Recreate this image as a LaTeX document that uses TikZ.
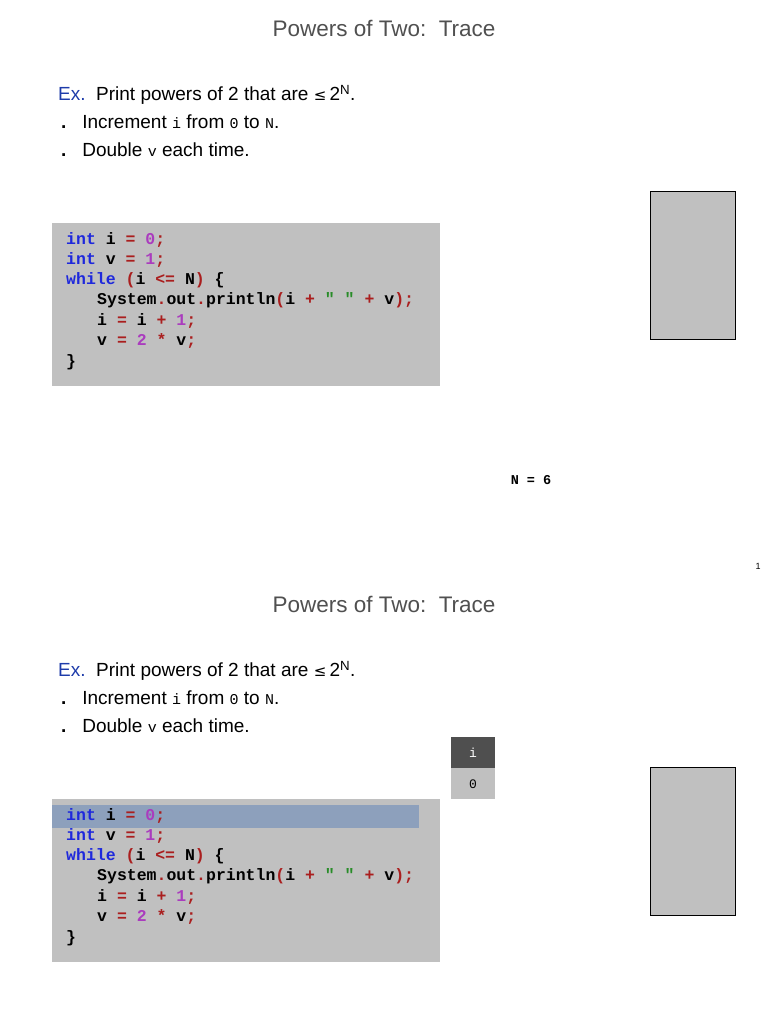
\documentclass[tikz,border=0pt]{standalone}
\usepackage{fontspec}
\setmainfont{Liberation Sans}
\setmonofont{Liberation Mono}
\newfontfamily\dv{DejaVu Sans}
\definecolor{kw}{RGB}{30,40,220}
\definecolor{op}{RGB}{170,30,30}
\definecolor{num}{RGB}{170,60,190}
\definecolor{str}{RGB}{40,140,40}
\definecolor{exb}{RGB}{30,60,170}
\definecolor{boxg}{RGB}{192,192,192}
\definecolor{hl}{RGB}{141,160,188}
\definecolor{ttl}{RGB}{80,80,80}
\newcommand{\K}[1]{\textcolor{kw}{#1}}
\newcommand{\Op}[1]{\textcolor{op}{#1}}
\newcommand{\Nm}[1]{\textcolor{num}{#1}}
\newcommand{\St}[1]{\textcolor{str}{#1}}
\begin{document}
\begin{tikzpicture}[x=1pt,y=-1pt,
  title/.style={font=\fontsize{22.5}{24}\selectfont, text=ttl},
  body/.style={font=\fontsize{19}{21}\selectfont, anchor=west, inner sep=0pt},
  code/.style={font=\ttfamily\bfseries\fontsize{16.5}{17}\selectfont, anchor=west, inner sep=0pt},
  memrect/.style={draw=black, fill=boxg, line width=0.6pt}]
\useasboundingbox[fill=white] (0,0) rectangle (768,1024);
\foreach \o/\s in {0/a,576/b}{
  \node[title] (t\s) at (384,28+\o) {Powers of Two:\ \ Trace};
  \node[body] (ex\s) at (58,95+\o) {\textcolor{exb}{Ex.}\ \ Print powers of 2 that are {\dv\fontsize{15}{15}\selectfont ≤}\,2$^{\mathrm{N}}$.};
  \node[body] (b1\s) at (61,122+\o) {\textbf{.}\ \ \ Increment {\ttfamily\fontsize{15}{15}\selectfont i} from {\ttfamily\fontsize{15}{15}\selectfont 0} to {\ttfamily\fontsize{15}{15}\selectfont N}.};
  \node[body] (b2\s) at (61,150+\o) {\textbf{.}\ \ \ Double {\ttfamily\fontsize{15}{15}\selectfont v} each time.};
  \fill[boxg] (52,223+\o) rectangle (440,386+\o);
  \draw[memrect] (650,191+\o) rectangle (735,339+\o);
}
\fill[hl] (52,805+0) rectangle (419,828);
\foreach \o/\s in {0/a,576/b}{
  \node[code] (c1\s) at (66,240+\o) {\K{int} i \Op{=} \Nm{0}\Op{;}};
  \node[code] (c2\s) at (66,260+\o) {\K{int} v \Op{=} \Nm{1}\Op{;}};
  \node[code] (c3\s) at (66,280+\o) {\K{while} \Op{(}i \Op{<=} N\Op{)} \{};
  \node[code] (c4\s) at (97,300+\o) {System\Op{.}out\Op{.}println\Op{(}i \Op{+} \St{" "} \Op{+} v\Op{);}};
  \node[code] (c5\s) at (97,321+\o) {i \Op{=} i \Op{+} \Nm{1}\Op{;}};
  \node[code] (c6\s) at (97,341+\o) {v \Op{=} \Nm{2} \Op{*} v\Op{;}};
  \node[code] (c7\s) at (66,362+\o) {\}};
}
\node[font=\ttfamily\bfseries\fontsize{13.5}{14}\selectfont] (N) at (531,480) {N = 6};
\node[font=\fontsize{9}{10}\selectfont] (pg) at (758,566) {1};
\node[fill=black!69, text=white, minimum width=44pt, minimum height=31pt, inner sep=0pt, font=\ttfamily\fontsize{13}{13}\selectfont] (ih) at (473,752.5) {i};
\node[fill=boxg, minimum width=44pt, minimum height=31pt, inner sep=0pt, font=\ttfamily\fontsize{13}{13}\selectfont, anchor=north] (iv) at (ih.south) {0};
\end{tikzpicture}
\end{document}
